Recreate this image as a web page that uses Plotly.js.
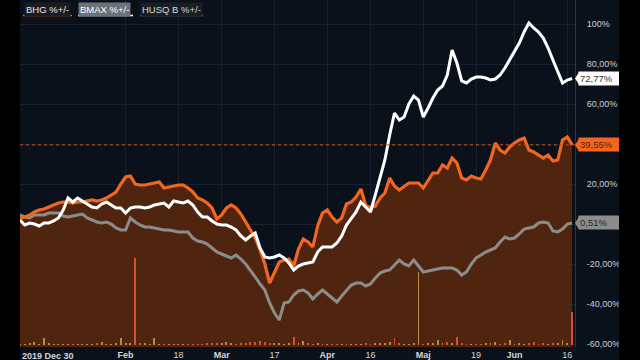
<!DOCTYPE html>
<html><head><meta charset="utf-8">
<script src="https://cdn.plot.ly/plotly-3.0.1.min.js"></script>
<style>
html,body{margin:0;padding:0;background:#000;width:640px;height:360px;overflow:hidden}
#chart{position:absolute;left:20px;top:0;width:599px;height:360px}
</style></head><body><div id="chart"></div>
<script>
// ---- data ----
const startDate = '2019-12-30';
const endDate = '2020-06-17';
const holidays = ['2019-12-31','2020-01-01','2020-01-06','2020-04-10','2020-04-13','2020-05-01','2020-05-21'];

const bhg = [3,3.5,4.5,6,7,7.5,8.5,9.5,10.5,11, 11,10.5,11,11,11.5,12,11.5,12,13,14.5,
  16,20,23.5,24,20,19.5,19.5,20,20.5,21, 18,18.5,19,19.5,19.5,18,16,13,12,10.5,
  8,2.5,4.5,8,9.5,8,5,1,-3.5,-7, -13,-20,-29.5,-24,-19,-18,-17.5,-21,-12.5,-7.5,
  -9,-11.5,-1,5.5,7,3.5,1,3,10,11, 13.5,17.5,9.5,8,9,13,15.5,23,19,17,
  19,20.5,20.5,20.5,18,22,25.5,25.5,29.5,28, 33,30.5,23,22,24,23,22.5,27,32,40.5,
  37,35.5,38.5,40.5,42,43,37,36,34.5,33, 34.5,31.5,32,42,43.5,39.55];

const bmax = [2,-0.5,0.5,0,-1,0.5,0.5,1.5,3,7, 13,11,13,11.5,10,8.5,8,10,11,9.5,
  8,8,5.5,8,8.5,8.5,8,8.5,9.5,10, 10.5,8.5,11.5,11,10.5,11.5,9.5,6,3.5,3.5,
  1.5,0,-0.5,-0.5,-1.5,-3,-6,-8,-6,-4.5, -12,-16.5,-17,-16.5,-15.5,-17,-19.5,-23,-21,-20,
  -19.5,-19,-14,-11.5,-11.5,-11.5,-9.5,-6,-0.5,2.5, 6,11,8.5,6,14.5,24,32,44.5,55.5,52,
  53.5,60,64,62,53.5,58,63,67,69,74.5, 87,80.5,71.5,70.5,72.5,73.5,73.5,73,72,72.5,
  74.5,78,82,86,90.5,96,100.5,98,96,93, 88,82,76,70.5,72,72.77];

const husq = [4.5,3.5,3,4.5,4.5,4.5,5.5,5.5,5.5,4, 3.5,4,4.5,5,3,2,1,0.5,1,0,
  -2,-3,-3,3,1,-0.5,-1.5,-1.5,-2,-2.5, -3,-3,-3.5,-4,-4,-4,-7,-8.5,-9,-10,
  -12,-14,-15,-16,-17,-15.5,-17.5,-20,-23,-26.5, -30,-33,-39.5,-44.5,-48,-39.5,-39,-35.5,-33.5,-33,
  -34.5,-37.5,-35,-33,-35,-37,-39,-36,-33,-30.5, -29.5,-29.5,-31,-30,-27,-24.5,-23.5,-23,-20.5,-18,
  -20,-21,-18,-21,-24,-23.5,-23,-22.5,-22,-22, -22,-23,-25.5,-24,-20,-17,-15.5,-14,-13,-12,
  -9,-6.5,-7.5,-7,-5,-2.5,-2,-1.5,0.5,1, 0.5,-3.5,-4,-2.5,0,0.51];

const volume = [15,10,20,30,15,70,20,15,10,15, 10,10,10,10,10,15,20,30,15,10,
  20,70,25,20,870,20,25,15,70,15, 10,10,10,15,10,10,15,10,15,20,
  25,20,20,30,20,15,20,25,30,35, 40,35,20,25,20,15,20,80,25,40,
  20,15,20,15,10,15,10,15,15,10, 15,15,20,15,20,20,25,30,70,20,
  15,15,20,730,15,20,25,50,20,30, 25,80,20,15,10,15,15,20,25,30,
  15,20,50,15,20,15,25,30,15,20, 15,20,25,50,20,330];

const seriesNames = ['BHG %+/-','BMAX %+/-','HUSQ B %+/-'];
const tickDates = ['2020-02-03','2020-02-18','2020-03-02','2020-03-17','2020-04-01','2020-04-16','2020-05-04','2020-05-19','2020-06-01','2020-06-16'];
const tickLabels = ['<b>Feb</b>','18','<b>Mar</b>','17','<b>Apr</b>','16','<b>Maj</b>','19','<b>Jun</b>','16'];
const firstLabel = '<b>2019 Dec 30</b>';
const yTicks = [100,80,60,40,20,0,-20,-40,-60];
const yTickLabels = ['100%','80,00%','60,00%','','20,00%','','-20,00%','-40,00%','-60,00%'];

// ---- helpers ----
function tradingDays(a, b) {
  const out = [];
  const d = new Date(a + 'T00:00:00Z');
  const e = new Date(b + 'T00:00:00Z');
  while (d <= e) {
    const w = d.getUTCDay();
    const s = d.toISOString().slice(0, 10);
    if (w !== 0 && w !== 6 && !holidays.includes(s)) out.push(s);
    d.setUTCDate(d.getUTCDate() + 1);
  }
  return out;
}
const dates = tradingDays(startDate, endDate);
const n = Math.min(dates.length, bhg.length);
const X = dates.slice(0, n);

const C_BHG = '#f3661f', C_BMAX = '#ffffff', C_HUSQ = '#8c8c8c';
const FILL = '#4f2510', BG = '#0a111a', GRID = '#17222e';
const yMin = -61.5, yMax = 112;
const FONT = '"Liberation Sans", Arial, sans-serif';

const volColors = volume.slice(0, n).map((v, i) => (i > 0 && bhg[i] < bhg[i - 1]) ? '#d4503c' : '#b88a4c');

const traces = [
  {x: X, y: X.map(() => yMin), type: 'scatter', mode: 'lines', line: {width: 0, color: 'rgba(0,0,0,0)'}, hoverinfo: 'skip', showlegend: false},
  {x: X, y: bhg.slice(0, n), type: 'scatter', mode: 'lines', fill: 'tonexty', fillcolor: FILL, line: {width: 0, color: 'rgba(0,0,0,0)'}, showlegend: false},
  {x: X, y: husq.slice(0, n), type: 'scatter', mode: 'lines', name: seriesNames[2], line: {color: C_HUSQ, width: 3}},
  {x: X, y: bhg.slice(0, n), type: 'scatter', mode: 'lines', name: seriesNames[0], line: {color: C_BHG, width: 3.2}},
  {x: X, y: bmax.slice(0, n), type: 'scatter', mode: 'lines', name: seriesNames[1], line: {color: C_BMAX, width: 3}},
  {x: X, y: volume.slice(0, n), type: 'bar', yaxis: 'y2', marker: {color: volColors, line: {width: 0}}, width: 0.4, showlegend: false}
];

const lastB = bhg[n - 1], lastM = bmax[n - 1], lastH = husq[n - 1];
const fmt = v => v.toFixed(2).replace('.', ',') + '%';

function tag(v, txt, bg, fg) {
  return {xref: 'paper', yref: 'y', x: 1, y: v, xanchor: 'left', yanchor: 'middle', xshift: 3,
    text: txt, showarrow: false, bgcolor: bg, borderpad: 1, width: 38, align: 'left',
    font: {family: FONT, size: 9.5, color: fg}};
}
function tip(v, col) {
  return {type: 'path', xref: 'paper', yref: 'y', path: `M 1.0,${v} L 1.0075,${v + 3.2} L 1.0075,${v - 3.2} Z`, fillcolor: col, line: {width: 0}};
}
const W = 555, H = 347;
const px = p => (p - 20) / W;
const py = p => 1 - p / H;
function legendItem(x0, label, bg, fg) {
  return {xref: 'paper', yref: 'paper', x: px(x0), y: py(9.5), xanchor: 'left', yanchor: 'middle', text: label,
    showarrow: false, bgcolor: bg, borderpad: 1, font: {family: FONT, size: 9.5, color: fg}};
}
function underline(x0, x1, col) {
  return {type: 'line', xref: 'paper', yref: 'paper', x0: px(x0), x1: px(x1), y0: py(15.5), y1: py(15.5), line: {color: col, width: 1.6}};
}

const layout = {
  width: 599, height: 360,
  margin: {l: 0, r: 44, t: 0, b: 13, pad: 0},
  paper_bgcolor: BG, plot_bgcolor: BG,
  showlegend: false,
  font: {family: FONT, size: 9, color: '#d6d6d6'},
  xaxis: {type: 'category', range: [0, 115.6], tickmode: 'array', tickvals: tickDates, ticktext: tickLabels,
    showgrid: true, gridcolor: GRID, gridwidth: 1, ticks: '', showline: false, zeroline: false,
    tickfont: {family: FONT, size: 9, color: '#d6d6d6'}, ticklabelstandoff: 1, fixedrange: true},
  yaxis: {side: 'right', range: [yMin, yMax], tickmode: 'array', tickvals: yTicks, ticktext: yTickLabels,
    showgrid: true, gridcolor: GRID, gridwidth: 1, zeroline: false, showline: true, linecolor: '#26384c', linewidth: 1,
    ticks: '', ticklabelstandoff: 9, tickfont: {family: FONT, size: 9, color: '#d0d0d0'}},
  yaxis2: {overlaying: 'y', range: [-20, 3450], visible: false, showgrid: false, zeroline: false},
  bargap: 0,
  shapes: [
    {type: 'line', xref: 'paper', yref: 'y', x0: 0, x1: 1, y0: lastB, y1: lastB, line: {color: '#c8581c', width: 1, dash: 'dot'}},
    underline(23, 72, C_BHG), underline(78, 133, '#ffffff'), underline(140, 203, '#9a9a9a'),
    tip(lastM, '#ffffff'), tip(lastB, C_BHG), tip(lastH, '#8c8c8c')
  ],
  annotations: [
    {xref: 'x', yref: 'paper', x: 0, y: 0, xanchor: 'left', yanchor: 'top', yshift: -2, text: firstLabel, showarrow: false,
      font: {family: FONT, size: 9, color: '#d6d6d6'}},
    tag(lastM, fmt(lastM), '#ffffff', '#333333'),
    tag(lastB, fmt(lastB), C_BHG, '#5a1e05'),
    tag(lastH, fmt(lastH), '#8c8c8c', '#2a2a2a'),
    legendItem(24, 'BHG %+/-', '#1d1d1f', '#e8e8e8'),
    legendItem(78, 'BMAX %+/-', '#6b727a', '#ffffff'),
    legendItem(140, 'HUSQ B %+/-', '#1a1f25', '#d8d8d8')
  ]
};

Plotly.newPlot('chart', traces, layout, {staticPlot: true, displayModeBar: false});
</script></body></html>
